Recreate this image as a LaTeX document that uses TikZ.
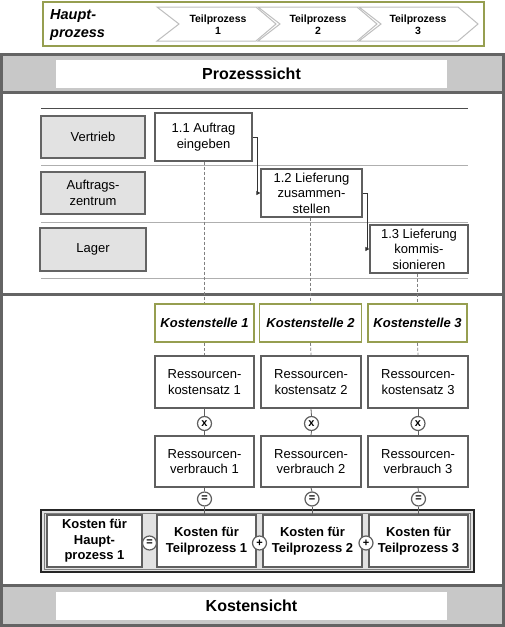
\documentclass[tikz,border=0pt]{standalone}
\usepackage{fontspec}
\setmainfont{Liberation Sans}
\usetikzlibrary{arrows.meta}
\definecolor{kgreen}{RGB}{150,158,80}
\definecolor{dgray}{RGB}{100,100,100}
\definecolor{pgray}{RGB}{95,95,95}
\definecolor{rfill}{RGB}{226,226,226}
\definecolor{ffill}{RGB}{200,200,200}
\definecolor{lgray}{RGB}{175,175,175}
\definecolor{cgray}{RGB}{190,190,190}
\tikzset{
  rolebox/.style={draw=dgray, line width=2.8pt, fill=rfill, minimum width=104pt, minimum height=42pt, inner sep=0pt, align=center},
  procbox/.style={draw=pgray, line width=1.2pt, fill=white, minimum height=48pt, inner sep=0pt, align=center},
  ksbox/.style={draw=kgreen, line width=1.5pt, fill=white, minimum height=38pt, inner sep=0pt, align=center, font=\fontsize{13}{15.5}\selectfont\bfseries\itshape},
  rbox/.style={draw=pgray, line width=1.5pt, fill=white, minimum height=52pt, inner sep=0pt, align=center},
  kbox/.style={draw=pgray, line width=1.5pt, fill=white, minimum height=52pt, inner sep=0pt, align=center, font=\fontsize{13}{15.5}\selectfont\bfseries},
  opc/.style={circle, draw=pgray, line width=1.2pt, fill=white, minimum size=14pt, inner sep=0pt, font=\fontsize{11}{11}\selectfont\bfseries},
  band/.style={fill=white, minimum width=391pt, minimum height=28pt, inner sep=0pt, font=\fontsize{16}{18}\selectfont\bfseries},
  chev/.style={draw=cgray, line width=1pt, fill=white},
  chevtext/.style={align=center, inner sep=0pt, font=\fontsize{10.5}{11.7}\selectfont\bfseries},
  conn/.style={draw=pgray, line width=0.8pt},
  dconn/.style={draw=gray, line width=0.8pt, dash pattern=on 3pt off 2pt},
  flow/.style={draw=black!80, line width=0.8pt, -{Triangle[length=4pt,width=4pt]}},
}
\begin{document}
\begin{tikzpicture}[x=1pt,y=-1pt, font=\fontsize{13}{15.5}\selectfont]
\useasboundingbox (0,0) rectangle (505,627);
% top Hauptprozess box
\draw[draw=kgreen, line width=2pt, fill=white] (43,2) rectangle (484,46);
\node[anchor=west, align=left, inner sep=0pt, font=\fontsize{14.5}{18}\selectfont\bfseries\itshape] (hp) at (50,25) {Haupt-\\prozess};
\foreach \L in {157,258,359}{
  \draw[chev] (\L,7) -- (\L+99,7) -- (\L+119,24) -- (\L+99,41) -- (\L,41) -- (\L+22,24) -- cycle;
}
\node[chevtext] (tp1) at (218,25) {Teilprozess\\1};
\node[chevtext] (tp2) at (318,25) {Teilprozess\\2};
\node[chevtext] (tp3) at (418,25) {Teilprozess\\3};
% outer frame
\draw[draw=dgray, line width=3pt, fill=ffill] (1.5,54.5) rectangle (503.5,625.5);
\node[band] (ps) at (251.5,74) {Prozesssicht};
\node[band] (ks) at (251.5,606) {Kostensicht};
\draw[draw=dgray, line width=3pt, fill=white] (1.5,92.5) rectangle (503.5,294);
\draw[draw=dgray, line width=3pt, fill=white] (1.5,294) rectangle (503.5,585.5);
% swimlane lines
\draw[draw=black!70, line width=0.9pt] (41,108) -- (468,108);
\foreach \y in {165,222,278}{\draw[draw=lgray, line width=0.9pt] (41,\y) -- (468,\y);}
% roles
\node[rolebox] (r1) at (93,137) {Vertrieb};
\node[rolebox] (r2) at (93,193) {Auftrags-\\zentrum};
\node[rolebox, minimum width=106pt, minimum height=43pt] (r3) at (93,249.5) {Lager};
% process steps
\node[procbox, minimum width=97pt] (p1) at (203.5,137) {1.1 Auftrag\\eingeben};
\node[procbox, minimum width=101pt] (p2) at (311.5,193) {1.2 Lieferung\\zusammen-\\stellen};
\node[procbox, minimum width=98pt] (p3) at (419,249) {1.3 Lieferung\\kommis-\\sionieren};
\draw[flow] (p1.east) -- ++(5,0) |- (p2.west);
\draw[flow] (p2.east) -- ++(5,0) |- (p3.west);
% cost centres
\node[ksbox, minimum width=99pt] (k1) at (204.5,323) {Kostenstelle 1};
\node[ksbox, minimum width=102pt] (k2) at (310.5,323) {Kostenstelle 2};
\node[ksbox, minimum width=99pt] (k3) at (417.5,323) {Kostenstelle 3};
\node[rbox, minimum width=99pt] (s1) at (204.5,382) {Ressourcen-\\kostensatz 1};
\node[rbox, minimum width=100pt] (s2) at (311,382) {Ressourcen-\\kostensatz 2};
\node[rbox, minimum width=100pt] (s3) at (418,382) {Ressourcen-\\kostensatz 3};
\node[rbox, minimum width=99pt, minimum height=51pt] (v1) at (204.5,461.5) {Ressourcen-\\verbrauch 1};
\node[rbox, minimum width=100pt, minimum height=51pt] (v2) at (311,461.5) {Ressourcen-\\verbrauch 2};
\node[rbox, minimum width=100pt, minimum height=51pt] (v3) at (418,461.5) {Ressourcen-\\verbrauch 3};
\node[opc] (x1) at (204.5,423.5) {x};
\node[opc] (x2) at (311.5,423.5) {x};
\node[opc] (x3) at (418,423.5) {x};
\node[opc] (e1) at (204.5,499) {=};
\node[opc] (e2) at (312,499) {=};
\node[opc] (e3) at (418.5,499) {=};
% dashed links
\draw[dconn] (k1.north |- p1.south) -- (k1.north);
\draw[dconn] (k2.north |- p2.south) -- (k2.north);
\draw[dconn] (k3.north |- p3.south) -- (k3.north);
\draw[dconn] (k1.south) -- (s1.north);
\draw[dconn] (k2.south) -- (s2.north);
\draw[dconn] (k3.south) -- (s3.north);
\foreach \i in {1,2,3}{
  \draw[conn] (s\i.south) -- (x\i.north);
  \draw[conn] (x\i.south) -- (v\i.north);
  \draw[conn] (v\i.south) -- (e\i.north);
}
% bottom cost row
\draw[draw=black!85, line width=1.5pt, fill=rfill] (41,510) rectangle (474,572);
\draw[draw=gray, line width=0.8pt] (44.5,513) rectangle (470.5,569);
\node[kbox, minimum width=95pt] (h1) at (94.5,541) {Kosten für\\Haupt-\\prozess 1};
\node[kbox, minimum width=99pt] (t1) at (206.5,541) {Kosten für\\Teilprozess 1};
\node[kbox, minimum width=99pt] (t2) at (312.5,541) {Kosten für\\Teilprozess 2};
\node[kbox, minimum width=99pt] (t3) at (418.5,541) {Kosten für\\Teilprozess 3};
\node[opc] (q0) at (149.5,543) {=};
\node[opc] (a1) at (259.5,543) {+};
\node[opc] (a2) at (366,543) {+};
\draw[conn] (e1.south) -- (e1.south |- t1.north);
\draw[conn] (e2.south) -- (e2.south |- t2.north);
\draw[conn] (e3.south) -- (e3.south |- t3.north);
\end{tikzpicture}
\end{document}
